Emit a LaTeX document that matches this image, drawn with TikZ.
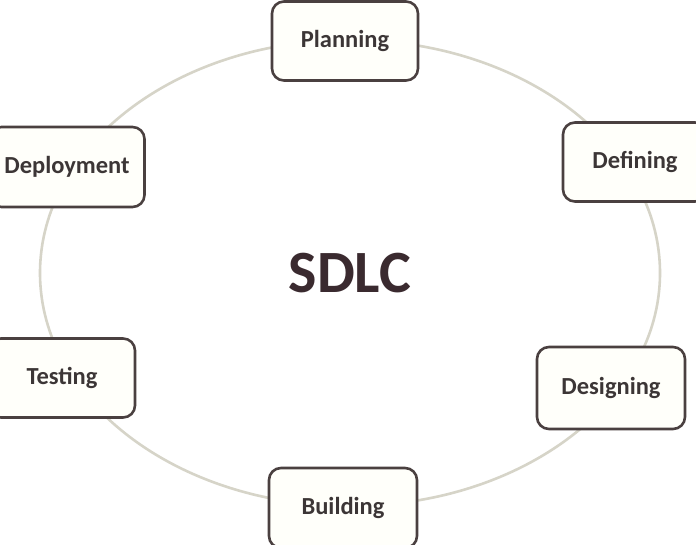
\documentclass[tikz,border=0pt]{standalone}
\usepackage{fontspec}
\setmainfont{Carlito}
\usepackage{tikz}
\usetikzlibrary{positioning}

\definecolor{boxline}{HTML}{4A4040}
\definecolor{boxfill}{HTML}{FFFFFA}
\definecolor{ringline}{HTML}{D6D4C8}
\definecolor{labeltext}{HTML}{3C3636}
\definecolor{titletext}{HTML}{3A2A2F}

\begin{document}
\begin{tikzpicture}[x=1pt,y=-1pt,
    phase/.style={draw=boxline,line width=2.6pt,fill=boxfill,rounded corners=12pt,
        minimum width=146pt,minimum height=79pt,text=labeltext,
        font=\fontsize{24.5}{26}\selectfont\bfseries}]
                % page
                \fill[white] (0,0) rectangle (696,545);
                \useasboundingbox (0,0) rectangle (696,545);
                \clip (0,0) rectangle (696,545);

                % cycle ring
                \draw[ringline,line width=2.6pt] (350,273) ellipse [x radius=310, y radius=233];

                % centre
                \node[text=titletext,font=\fontsize{60}{64}\selectfont\bfseries] (sdlc) at (350,273) {SDLC};

                % phases
                \node[phase] (planning) at (345,41) {Planning};
                \node[phase,minimum width=144pt] (defining) at (635,162) {Defining};
                \node[phase,minimum width=148pt,minimum height=82pt] (designing) at (611,388) {Designing};
                \node[phase,minimum width=148pt,minimum height=80pt] (building) at (343,508) {Building};
                \node[phase] (testing) at (62,378) {Testing};
                \node[phase,minimum width=155pt,minimum height=80pt] (deployment) at (67,167) {Deployment};
            \end{tikzpicture}
\end{document}
